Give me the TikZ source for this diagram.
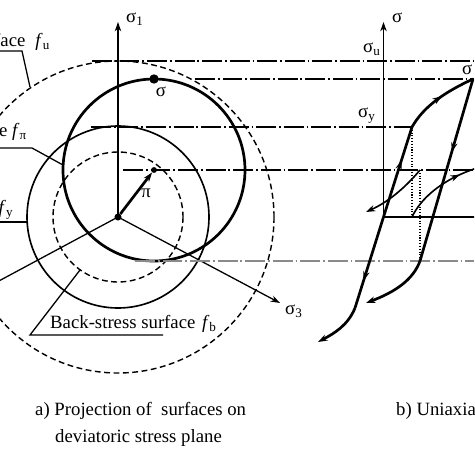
\documentclass[tikz,border=0pt]{standalone}
\usepackage{fontspec}
\setmainfont{Liberation Serif}
\usepackage{xcolor}
\usepackage{tikz}
\usetikzlibrary{arrows.meta,decorations.markings}
\definecolor{ink}{HTML}{000000}
\definecolor{greyline}{HTML}{8A8A8A}
\tikzset{
  thinline/.style={line width=1.1pt, draw=ink},
  surf/.style={line width=1.4pt, draw=ink},
  thickline/.style={line width=2.3pt, draw=ink},
  dashsurf/.style={line width=1.2pt, draw=ink, dash pattern=on 5pt off 3pt},
  dashdot/.style={line width=0.9pt, draw=ink, dash pattern=on 17pt off 2.5pt on 1.5pt off 2.5pt},
  dotline/.style={line width=0.9pt, draw=ink, dash pattern=on 0.9pt off 1.5pt},
  leader/.style={line width=1.1pt, draw=ink},
  arrowend/.style={-{Stealth[length=8pt,width=5.5pt]}},
  midtip/.style={postaction={decorate,decoration={markings,
      mark=at position #1 with {\arrow{Stealth[length=8pt,width=5.5pt]}}}}},
  pnt/.style={circle, fill=ink, inner sep=0pt, minimum size=#1},
  lbl/.style={font=\fontsize{16}{19}\selectfont, inner sep=0pt}
}

\begin{document}
\begin{tikzpicture}[x=0.03cm, y=-0.03cm]
  \useasboundingbox (0,0) rectangle (474,474);
  \clip (0,0) rectangle (474,474);

  % a) deviatoric plane
  \coordinate (o) at (118,217);
  \coordinate (p) at (154,170);
  \coordinate (s) at (154,79);
  \coordinate (s1) at (118,22);
  \coordinate (s2) at (-44,304);
  \coordinate (s3) at (280,303);

  \draw[dashsurf] (o) circle[radius=156];
  \draw[surf] (o) circle[radius=91];
  \draw[dashsurf] (o) circle[radius=65];
  \draw[thickline] (p) circle[radius=91];

  \draw[thinline, arrowend] (o) -- (s1);
  \draw[thinline] (o) -- (s2);
  \draw[thinline, arrowend] (o) -- (s3);

  \node[lbl, anchor=base west] (sig1) at (126,22) {σ\textsubscript{1}};
  \node[lbl, anchor=base west] (sig3) at (285,314) {σ\textsubscript{3}};

  % projection lines
  \draw[dashdot] (92,61) -- (474,61);
  \draw[dashdot] (195,79) -- (474,79);
  \draw[dashdot] (91,127) -- (412,127);
  \draw[dashdot] (123,170) -- (474,170);
  \draw[dashdot, draw=greyline] (135,261) -- (474,261);

  % leaders
  \coordinate (lu0) at (-5,51);
  \coordinate (lu1) at (22,51);
  \coordinate (lu2) at (30,87);
  \coordinate (lp0) at (-5,148);
  \coordinate (lp1) at (32,148);
  \coordinate (lp2) at (63,165);
  \coordinate (ly0) at (-5,222);
  \coordinate (ly1) at (27.5,222);
  \coordinate (lb0) at (163,335);
  \coordinate (lb1) at (30,335);
  \coordinate (lb2) at (80,270);
  \draw[leader] (lu0) -- (lu1) -- (lu2);
  \draw[leader] (lp0) -- (lp1) -- (lp2);
  \draw[leader] (ly0) -- (ly1);
  \draw[leader] (lb0) -- (lb1) -- (lb2);

  \node[lbl, anchor=base west] (fu) at (-6,46) {face\hspace{0.3cm}\textit{f}\textsubscript{u}};
  \node[lbl, anchor=base west] (fpi) at (-1,136) {e \textit{f}\textsubscript{π}};
  \node[lbl, anchor=base west] (fy) at (-1.5,213) {\textit{f}\textsubscript{y}};
  \node[lbl, anchor=base west] (fb) at (50,328) {Back-stress surface\hspace{0.2cm}\textit{f}\textsubscript{b}};

  \node[pnt=6pt] (O) at (o) {};
  \node[pnt=5pt] (P) at (p) {};
  \node[pnt=8pt] (S) at (s) {};
  \draw[thickline, arrowend] (O) -- (P);
  \node[lbl, anchor=base] (sigS) at (161,96) {σ};
  \node[lbl, anchor=base] (piP) at (146,197) {π};

  % b) uniaxial response
  \coordinate (R0) at (383.5,217);
  \coordinate (Rtop) at (383.5,22);
  \coordinate (Rx) at (476,217);
  \coordinate (Yp) at (412,127);
  \coordinate (Sp) at (473,79);
  \coordinate (Cp) at (355,308);
  \coordinate (Ce) at (318,342);
  \coordinate (Up) at (420,261);
  \coordinate (Ue) at (366,303);
  \coordinate (Ra) at (420,170);
  \coordinate (Rae) at (366,212);
  \coordinate (Rb) at (412,217);
  \coordinate (Rbe) at (477,168);

  \draw[thinline, arrowend] (R0) -- (Rtop);
  \draw[thinline] (R0) -- (Rx);
  \draw[dotline] (Yp) -- (Rb);
  \draw[dotline] (Ra) -- (Up);
  \draw[thickline, midtip=0.63] (R0) -- (Yp);
  \draw[thickline, midtip=0.55] (Yp) .. controls (424,106) and (445,92) .. (Sp);
  \draw[thickline, midtip=0.4] (Sp) -- (Up);
  \draw[thickline, arrowend] (Up) .. controls (413,280) and (395,292) .. (Ue);
  \draw[thickline, midtip=0.7] (R0) -- (Cp);
  \draw[thickline, arrowend] (Cp) .. controls (348,325) and (335,333) .. (Ce);
  \draw[surf, arrowend] (Ra) .. controls (405,188) and (388,202) .. (Rae);
  \draw[surf, midtip=0.78] (Rb) .. controls (420,200) and (440,180) .. (Rbe);

  \node[lbl, anchor=base west] (sigR) at (392,22) {σ};
  \node[lbl, anchor=base west] (sigu) at (363,52) {σ\textsubscript{u}};
  \node[lbl, anchor=base west] (sigy) at (358,117) {σ\textsubscript{y}};
  \node[lbl, anchor=base west] (sigE) at (462,74) {σ};

  % captions
  \node[lbl, anchor=base west] (capa) at (35,415) {a) Projection of\ \ surfaces on};
  \node[lbl, anchor=base west] (capa2) at (55,442) {deviatoric stress plane};
  \node[lbl, anchor=base west] (capb) at (396,415) {b) Uniaxia};
\end{tikzpicture}
\end{document}
